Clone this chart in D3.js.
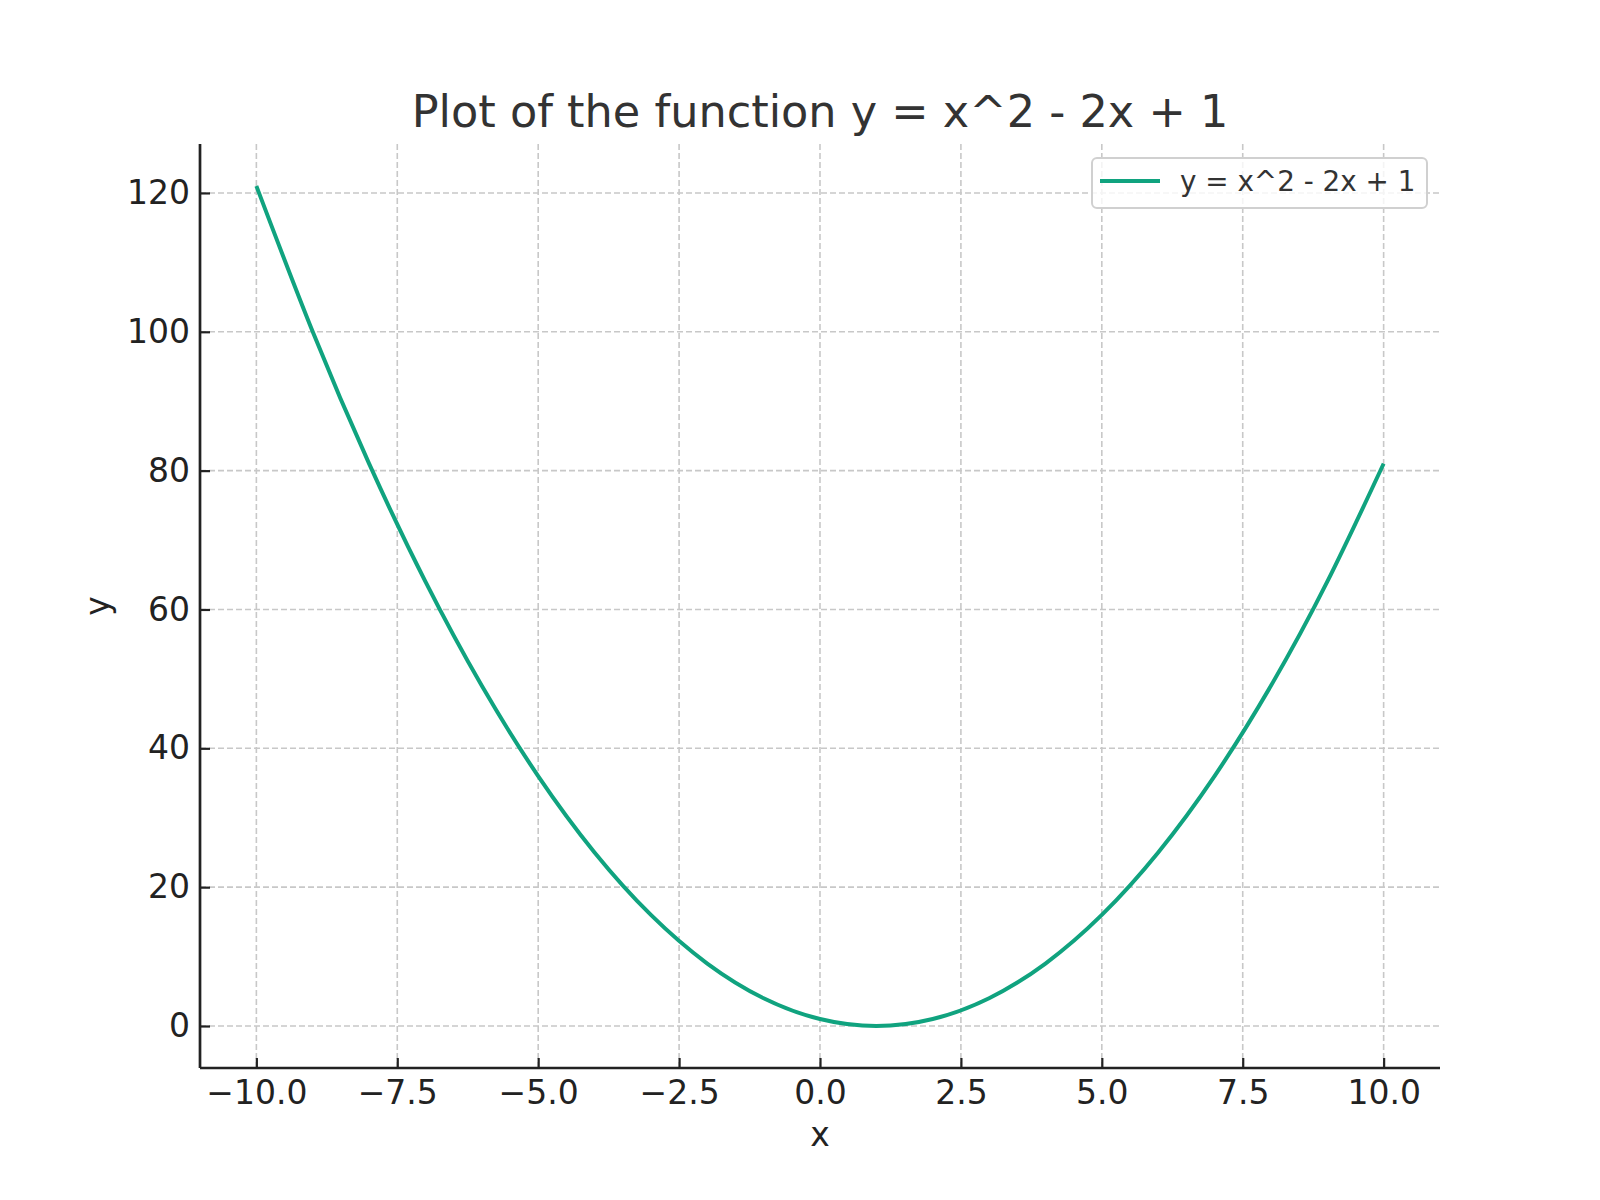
<!DOCTYPE html>
<html>
<head>
<meta charset="utf-8">
<script src="https://cdn.jsdelivr.net/npm/d3@7"></script>
<style>
  html, body { margin: 0; padding: 0; background: #fff; }
  svg { display: block; font-family: "DejaVu Sans", sans-serif; }
</style>
</head>
<body>
<svg id="chart" width="1600" height="1200"></svg>
<script>
// Data
const xValues = [-10, -9, -8, -7, -6, -5, -4, -3, -2, -1, 0, 1, 2, 3, 4, 5, 6, 7, 8, 9, 10];
const yValues = [121, 100, 81, 64, 49, 36, 25, 16, 9, 4, 1, 0, 1, 4, 9, 16, 25, 36, 49, 64, 81];
const xTicks = [-10, -7.5, -5, -2.5, 0, 2.5, 5, 7.5, 10];
const yTicks = [0, 20, 40, 60, 80, 100, 120];
const titleText = "Plot of the function y = x^2 - 2x + 1";
const seriesName = "y = x^2 - 2x + 1";
const xLabel = "x";
const yLabel = "y";

const W = 1600, H = 1200;
const pLeft = 200, pRight = 1440, pTop = 144, pBottom = 1068;
const lineColor = "#10a37f";

const svg = d3.select("#chart");

const xMin = d3.min(xValues), xMax = d3.max(xValues);
const yMin = d3.min(yValues), yMax = d3.max(yValues);
const xPad = (xMax - xMin) * 0.05, yPad = (yMax - yMin) * 0.05;

const x = d3.scaleLinear().domain([xMin - xPad, xMax + xPad]).range([pLeft, pRight]);
const y = d3.scaleLinear().domain([yMin - yPad, yMax + yPad]).range([pBottom, pTop]);

const fmtX = v => (v < 0 ? "\u2212" : "") + Math.abs(v).toFixed(1);
const fmtY = v => (v < 0 ? "\u2212" : "") + Math.abs(v).toFixed(0);

// Grid
const grid = svg.append("g");
grid.selectAll("line.vx").data(xTicks).enter().append("line")
  .attr("x1", d => x(d)).attr("x2", d => x(d))
  .attr("y1", pTop).attr("y2", pBottom)
  .attr("stroke", "#c8c8c8").attr("stroke-width", 1.6).attr("stroke-dasharray", "6,3");
grid.selectAll("line.hy").data(yTicks).enter().append("line")
  .attr("x1", pLeft).attr("x2", pRight)
  .attr("y1", d => y(d)).attr("y2", d => y(d))
  .attr("stroke", "#c8c8c8").attr("stroke-width", 1.6).attr("stroke-dasharray", "6,3");

// Curve
const pts = xValues.map((v, i) => [v, yValues[i]]);
const line = d3.line().x(d => x(d[0])).y(d => y(d[1])).curve(d3.curveNatural);
svg.append("path").datum(pts)
  .attr("d", line)
  .attr("fill", "none").attr("stroke", lineColor).attr("stroke-width", 4);

// Axes
const xAxis = d3.axisBottom(x).tickValues(xTicks).tickFormat(fmtX).tickSizeInner(-10).tickSizeOuter(0).tickPadding(13);
const yAxis = d3.axisLeft(y).tickValues(yTicks).tickFormat(fmtY).tickSizeInner(-10).tickSizeOuter(0).tickPadding(10);

const gx = svg.append("g").attr("transform", `translate(0,${pBottom})`).call(xAxis);
const gy = svg.append("g").attr("transform", `translate(${pLeft},0)`).call(yAxis);

[gx, gy].forEach(g => {
  g.select(".domain").attr("stroke", "#222").attr("stroke-width", 2.7);
  g.selectAll(".tick line").attr("stroke", "#222").attr("stroke-width", 2.2);
  g.selectAll(".tick text").attr("fill", "#222").attr("font-size", 33)
    .attr("font-family", "DejaVu Sans, sans-serif");
});
gx.select(".domain").attr("d", `M${pLeft},0H${pRight}`);
gy.select(".domain").attr("d", `M0,${pTop}V${pBottom}`);

// Title
svg.append("text").attr("x", (pLeft + pRight) / 2).attr("y", 127)
  .attr("text-anchor", "middle").attr("font-size", 44.6).attr("fill", "#333")
  .text(titleText);

// Axis labels
svg.append("text").attr("x", (pLeft + pRight) / 2).attr("y", 1146)
  .attr("text-anchor", "middle").attr("font-size", 33).attr("fill", "#222")
  .text(xLabel);
svg.append("text").attr("transform", `translate(109,${(pTop + pBottom) / 2}) rotate(-90)`)
  .attr("text-anchor", "middle").attr("font-size", 33).attr("fill", "#222")
  .text(yLabel);

// Legend
const lg = svg.append("g");
lg.append("rect").attr("x", 1092).attr("y", 158).attr("width", 335).attr("height", 50)
  .attr("rx", 5).attr("fill", "rgba(255,255,255,0.8)").attr("stroke", "#d0d0d0").attr("stroke-width", 2);
lg.append("line").attr("x1", 1100).attr("x2", 1160).attr("y1", 181).attr("y2", 181)
  .attr("stroke", lineColor).attr("stroke-width", 4);
lg.append("text").attr("x", 1180).attr("y", 191).attr("font-size", 27.8).attr("fill", "#333")
  .text(seriesName);
</script>
</body>
</html>
